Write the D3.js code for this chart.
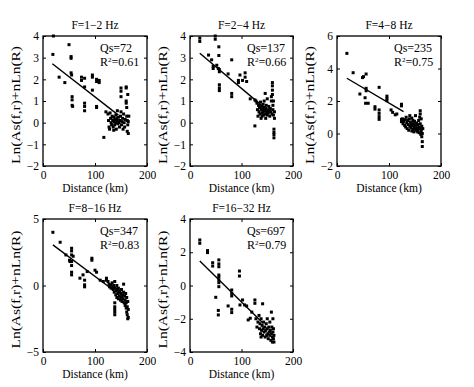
<!DOCTYPE html>
<html><head><meta charset="utf-8">
<script src="https://cdn.jsdelivr.net/npm/d3@7"></script>
<style>
html,body{margin:0;padding:0;background:#fff;}
svg text{font-family:"Liberation Serif","Times New Roman",serif;fill:#000;}
</style></head>
<body><svg id="c" width="474" height="387"></svg>
<script>
// ---------- data ----------
const titles = ["F=1\u22122 Hz","F=2\u22124 Hz","F=4\u22128 Hz","F=8\u221216 Hz","F=16\u221232 Hz"];
const qsValues = [72,137,235,347,697];
const r2Values = ["0.61","0.66","0.75","0.83","0.79"];
const xTicks = [0,100,200];
const yDomains = [[-2,4],[-2,4],[-2,6],[-5,5],[-4,4]];
const yTickSets = [[-2,-1,0,1,2,3,4],[-2,-1,0,1,2,3,4],[-2,0,2,4,6],[-5,0,5],[-4,-2,0,2,4]];
const fitLines = [
  [[18,2.72],[145,0.35]],
  [[19,3.2],[146,0.66]],
  [[19,3.4],[128,1.34]],
  [[19,3.05],[135,-0.34]],
  [[19,1.47],[142,-2.27]]
];
const pts1 = [[20,4.0],[19,3.15],[31,2.1],[42,1.85],[50,3.6],[54,3.05],[54,2.97],[54,2.3],[55,2.2],[56,1.2],[56,1.05],[56,0.8],[57,0.75],
 [74,2.1],[74,1.95],[80,2.05],[80,1.65],[80,0.9],[80,0.75],[80,0.55],[95,2.2],[95,2.1],[95,1.5],[103,2.0],[103,1.9],[108,1.95],[108,1.85],
 [103,0.75],[103,0.7],[117,-0.68],[121,0.5],[125,0.4],[126,0.1],[127,-0.2],[128,-0.3],[130,0.2],[131,0],[132,-0.1],[133,0.3],[134,0.1],
 [135,-0.2],[136,0.25],[137,0.05],[138,-0.1],[139,0.15],[140,0],[140,0.35],[141,-0.3],[142,0.2],[143,0.1],[144,-0.05],[145,0.25],[146,0],
 [147,-0.2],[148,0.1],[149,0.3],[150,1.6],[150,1.45],[150,1.2],[150,0.5],[151,-0.1],[152,0.05],[153,0.2],[154,-0.3],[155,0.4],[156,0],
 [157,-0.2],[158,0.15],[160,1.65],[160,1.6],[160,1.0],[160,0.9],[161,0.7],[161,0.3],[162,0.1],[162,-0.4],[163,-0.1],[163,1.3],[164,0.05],
 [164,-0.5],[165,0.3],[143,0.55],[136,-0.35],[129,0.45]];
const pts2 = [[19,3.9],[19,3.75],[36,3.12],[42,2.9],[45,2.6],[45,2.5],[52,2.65],[49,4.0],[49,3.85],[55,2.5],[56,3.5],[56,3.1],[57,2.45],[57,2.35],
 [57,1.75],[57,1.6],[57,1.48],[74,2.25],[81,2.9],[81,1.35],[81,1.2],[94,1.95],[94,1.85],[97,2.2],[102,1.95],[107,2.3],[107,2.1],[110,1.9],
 [117,1.1],[126,1.05],[126,-0.15],[146,1.35],
 [128,1.0],[130,0.9],[131,0.6],[132,0.3],[133,0.8],[134,0.5],[135,0.7],[136,0.4],[137,0.95],[138,0.2],[138,0.6],[139,0.75],[140,0.45],
 [140,0.3],[141,0.6],[142,0.85],[142,0.5],[143,0.35],[144,0.7],[144,1.0],[145,0.55],[146,0.4],[147,0.65],[147,0.2],[148,0.8],[149,0.5],
 [150,0.35],[150,1.1],[151,0.6],[152,0.45],[153,0.75],[154,0.55],[155,0.3],[156,0.65],[157,0.5],[158,1.2],[158,1.0],[159,0.4],[160,1.85],
 [160,1.7],[160,1.5],[160,1.3],[161,0.8],[161,0.6],[162,0.35],[162,1.0],[163,-0.3],[163,-0.45],[163,-0.55],[163,-0.7],[164,0.2],[164,0.5]];
const pts3 = [[19,4.93],[31,3.74],[44,2.43],[49,3.44],[51,3.5],[56,3.66],[56,2.78],[56,2.63],[54,2.2],[55,1.86],[60,1.86],[73,1.65],[73,1.5],
 [81,1.45],[81,2.84],[81,1.24],[81,1.04],[81,0.87],[96,2.3],[96,2.16],[96,2.02],[104,1.45],[107,1.3],[112,1.15],[115,1.2],[124,1.8],[124,1.7],
 [124,0.87],[124,0.73],
 [126,0.9],[127,0.6],[128,0.75],[130,0.5],[131,0.85],[132,0.4],[133,1.0],[134,0.65],[135,0.3],[136,0.8],[137,0.55],[138,0.2],[139,0.9],
 [140,0.45],[140,1.1],[141,0.7],[142,0.35],[143,0.6],[144,0.15],[144,0.95],[145,0.5],[146,0.8],[146,0.25],[147,0.6],[148,0.1],[148,0.4],
 [149,0.75],[150,0.3],[151,1.1],[151,0.5],[152,0.2],[153,0.65],[154,0.35],[155,0.1],[155,0.55],[156,0.25],[157,0.8],[158,0.4],[158,0.05],
 [159,1.0],[160,1.4],[160,1.2],[160,0.6],[161,0.3],[161,-0.05],[162,0.15],[162,0.9],[163,0.45],[163,-0.2],[164,0.0],[164,-0.5],[164,-0.8],[165,0.3]];
const pts4 = [[19,4.0],[33,3.25],[44,2.3],[51,1.9],[52,1.8],[55,2.8],[55,2.6],[55,2.3],[55,1.8],[55,1.5],[55,1.0],[55,0.8],[58,2.2],
 [71,0.55],[77,0.8],[80,0.4],[80,0.05],[80,-0.1],[85,1.05],[94,2.05],[94,1.9],[100,1.15],[103,1.0],[110,0.4],[116,0.3],[122,0.55],[122,0.4],
 [125,0.3],[127,0.1],[128,-0.1],[130,0.05],[131,-0.2],[133,0.2],[134,-0.1],[135,-0.3],[136,0.0],[137,-0.5],[138,0.3],[138,-1.3],[138,-1.6],
 [138,-1.8],[138,-2.0],[138,-2.2],[139,-0.2],[140,-0.7],[141,-0.4],[142,-0.9],[142,0.0],[143,-0.3],[144,-0.6],[145,-1.0],[145,-0.2],[146,-0.5],
 [147,-0.8],[148,-0.4],[149,-1.1],[150,-0.6],[151,-0.9],[151,-0.3],[152,-1.2],[153,-0.7],[154,-1.0],[155,-0.5],[155,0.1],[156,-1.3],[157,-0.8],
 [158,-1.5],[158,-1.1],[159,-0.6],[160,-1.7],[160,-1.3],[161,-2.0],[161,-0.9],[162,-1.6],[162,-2.2],[163,-1.2],[163,-2.5],[164,-1.8],[164,-2.4]];
const pts5 = [[19,2.74],[19,2.54],[34,2.1],[34,1.98],[44,1.37],[44,1.17],[50,-0.71],[56,1.54],[56,1.3],[56,1.13],[56,0.63],[56,0.5],[56,0.33],
 [56,0.17],[56,-0.07],[55,-1.5],[55,-1.77],[74,-1.23],[81,-0.27],[81,-0.47],[81,-0.63],[81,-1.43],[81,-1.63],[96,0.87],[96,0.57],[97,-1.17],
 [102,-0.87],[106,-1.17],[110,-1.23],[113,-2.07],[117,-1.97],[126,-0.87],[126,-1.07],[120,-1.6],
 [128,-2.0],[130,-2.5],[132,-2.2],[134,-1.8],[135,-2.6],[136,-2.3],[137,-2.9],[138,-3.1],[138,-2.0],[139,-2.7],[140,-2.4],[141,-1.1],[141,-3.0],
 [142,-2.6],[143,-2.2],[144,-2.8],[145,-2.5],[146,-3.1],[147,-2.7],[148,-2.3],[149,-3.0],[150,-2.6],[150,-2.0],[151,-2.9],[152,-3.2],[153,-2.5],
 [154,-2.8],[155,-3.0],[155,-2.2],[156,-2.7],[157,-3.3],[158,-1.6],[158,-2.9],[159,-2.5],[160,-3.1],[160,-3.4],[161,-2.8],[161,-2.0],[162,-3.2],
 [162,-2.6],[163,-3.0],[163,-3.4]];
const pointSets = [pts1,pts2,pts3,pts4,pts5];

// ---------- layout ----------
const boxes = [
  {l:43,r:147,t:36,b:166},
  {l:190,r:293,t:36,b:166},
  {l:337,r:441,t:36,b:166},
  {l:43,r:147,t:219,b:352},
  {l:190,r:293,t:219,b:352}
];
const svg = d3.select("#c");
const fmt = d3.format("");

boxes.forEach((bx,i)=>{
  const x = d3.scaleLinear().domain([0,200]).range([bx.l,bx.r]);
  const y = d3.scaleLinear().domain(yDomains[i]).range([bx.b,bx.t]);
  const g = svg.append("g");
  const tk = 3;
  const ax = g.append("g").attr("transform",`translate(0,${bx.b})`)
    .call(d3.axisBottom(x).tickValues(xTicks).tickSize(-tk).tickPadding(6).tickFormat(fmt));
  const axT = g.append("g").attr("transform",`translate(0,${bx.t})`)
    .call(d3.axisTop(x).tickValues(xTicks).tickSize(-tk).tickFormat(""));
  const ay = g.append("g").attr("transform",`translate(${bx.l},0)`)
    .call(d3.axisLeft(y).tickValues(yTickSets[i]).tickSize(-tk).tickPadding(4).tickFormat(d3.format("")));
  const ayR = g.append("g").attr("transform",`translate(${bx.r},0)`)
    .call(d3.axisRight(y).tickValues(yTickSets[i]).tickSize(-tk).tickFormat(""));
  [ax,axT,ay,ayR].forEach(a=>{
    a.select(".domain").remove();
    a.selectAll("line").attr("stroke","#000").attr("stroke-width",1);
    a.selectAll("text").attr("font-size",11.5).attr("font-family","Liberation Serif");
  });
  ax.selectAll("text").attr("dy","0.6em");
  g.append("rect").attr("x",bx.l).attr("y",bx.t).attr("width",bx.r-bx.l).attr("height",bx.b-bx.t)
    .attr("fill","none").attr("stroke","#000").attr("stroke-width",1.3);

  g.append("g").selectAll("rect").data(pointSets[i]).join("rect")
    .attr("x",d=>x(d[0])-1.5).attr("y",d=>y(d[1])-1.5).attr("width",3).attr("height",3).attr("fill","#000");
  g.append("path").datum(fitLines[i])
    .attr("d",d3.line().x(d=>x(d[0])).y(d=>y(d[1])))
    .attr("fill","none").attr("stroke","#000").attr("stroke-width",1.4);

  g.append("text").attr("x",(bx.l+bx.r)/2).attr("y",bx.t-7).attr("text-anchor","middle")
    .attr("font-size",11.5).text(titles[i]);
  g.append("text").attr("x",(bx.l+bx.r)/2).attr("y",bx.b+26).attr("text-anchor","middle")
    .attr("font-size",11.5).text("Distance (km)");
  g.append("text").attr("transform",`translate(${bx.l-23},${(bx.t+bx.b)/2+4}) rotate(-90)`)
    .attr("text-anchor","middle").attr("font-size",13.5)
    .attr("textLength",118).attr("lengthAdjust","spacingAndGlyphs")
    .text("Ln(As(f,r)+nLn(R)");
  const ax0 = bx.l+57;
  g.append("text").attr("x",ax0).attr("y",bx.t+16).attr("font-size",12).text("Qs=" + qsValues[i]);
  const r = g.append("text").attr("x",ax0).attr("y",bx.t+30).attr("font-size",12);
  r.append("tspan").text("R");
  r.append("tspan").attr("font-size",7).attr("dy",-4).text("2");
  r.append("tspan").attr("dy",4).text("=" + r2Values[i]);
});
</script></body></html>
